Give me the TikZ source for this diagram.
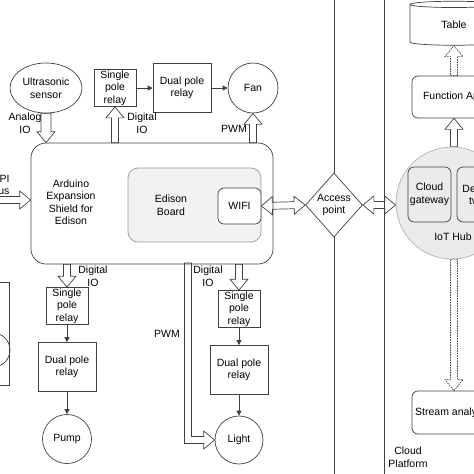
\documentclass[tikz,border=0pt]{standalone}
\usepackage{fontspec}
\setmainfont{Liberation Sans}
\usetikzlibrary{arrows.meta,shapes.geometric,backgrounds,calc}

\begin{document}
\begin{tikzpicture}
  [x=1pt,y=-1pt,>={Triangle[length=5pt,width=5pt]},%以像素为单位,y轴向下
   font=\fontsize{10.5pt}{12.5pt}\selectfont,
   box/.style={draw=black!75,line width=0.7pt,align=center,inner sep=0pt},%所有方框的基本样式
   relay/.style={box,minimum width=42pt,minimum height=37pt},%单极继电器
   dual/.style={box,minimum width=58pt,minimum height=49pt},%双极继电器
   dev/.style={box,circle,minimum size=49pt},%执行器(圆形)
   soft/.style={box,rounded corners=6pt},%圆角方框
   txt/.style={align=center,inner sep=0pt},%纯文字
   line/.style={draw=black!75,line width=0.7pt},
   fat/.style={line,fill=white,%空心粗箭头
     to path={let \p1=(\tikztostart),\p2=(\tikztotarget),
       \n1={atan2(\y2-\y1,\x2-\x1)},\n2={veclen(\x2-\x1,\y2-\y1)} in
       {[shift={(\p1)},rotate=\n1]
        (0pt,-#1) -- ({\n2-11pt},-#1) -- ({\n2-11pt},-9pt) -- (\n2,0pt)
        -- ({\n2-11pt},9pt) -- ({\n2-11pt},#1) -- (0pt,#1) -- cycle}}},
   fat/.default=3.5pt,
   fat2/.style={line,fill=white,%双向空心粗箭头
     to path={let \p1=(\tikztostart),\p2=(\tikztotarget),
       \n1={atan2(\y2-\y1,\x2-\x1)},\n2={veclen(\x2-\x1,\y2-\y1)} in
       {[shift={(\p1)},rotate=\n1]
        (11pt,-3.5pt) -- ({\n2-11pt},-3.5pt) -- ({\n2-11pt},-9pt) -- (\n2,0pt)
        -- ({\n2-11pt},9pt) -- ({\n2-11pt},3.5pt) -- (11pt,3.5pt) -- (11pt,9pt)
        -- (0pt,0pt) -- (11pt,-9pt) -- cycle}}},
   dots/.style={dash pattern=on 1.5pt off 1pt}]

  \clip (0,0) rectangle (474,474);

  % 设备侧
  \node [box,ellipse,minimum width=72pt,minimum height=50pt] (us) at (46,88) {Ultrasonic\\sensor};
  \node [relay] (sp1) at (115,88) {Single\\pole\\relay};
  \node [dual]  (dp1) at (182,88) {Dual pole\\relay};
  \node [dev,minimum size=50pt] (fan) at (253,88) {Fan};

  \node [box,rounded corners=15pt,minimum width=242pt,minimum height=121pt] (ard) at (152,203.5) {};
  \node [txt] (ardtxt) at (71,202) {Arduino\\Expansion\\Shield for\\Edison};
  \node [box,draw=black!40,fill=black!5,rounded corners=10pt,
         minimum width=133pt,minimum height=74pt] (ed) at (194.5,205) {};
  \node [txt] (edtxt) at (171,205) {Edison\\Board};
  \node [soft,fill=white,minimum width=43pt,minimum height=36pt] (wifi) at (239.5,206) {WIFI};

  \node [relay] (sp2)  at (67,306) {Single\\pole\\relay};
  \node [dual]  (dp2)  at (67,367) {Dual pole\\relay};
  \node [dev]   (pump) at (67,439) {Pump};
  \node [relay] (sp3)  at (239,309) {Single\\pole\\relay};
  \node [dual]  (dp3)  at (239,370) {Dual pole\\relay};
  \node [dev,minimum size=48pt] (light) at (239,440) {Light};

  \node [box,minimum width=50pt,minimum height=103pt] (lbox) at (-16,333.5) {};
  \node [box,circle,minimum size=34pt] (lcirc) at (-7,350) {};

  % 接入点与云平台
  \node [box,diamond,fill=white,minimum width=57pt,minimum height=64pt] (ap) at (334,205) {Access\\point};
  \node [circle,draw=black!30,fill=black!8,line width=0.7pt,minimum size=112pt] (iot) at (452,203) {};
  \node [soft,minimum width=43pt,minimum height=55pt] (cg) at (429.5,194.5) {Cloud\\gateway};
  \node [soft,minimum width=43pt,minimum height=55pt] (dt) at (478.5,194.5) {Device\\twin};
  \node [txt] (iottxt) at (453,237) {IoT Hub};
  \node [soft,minimum width=84pt,minimum height=42pt] (fa) at (454,97) {Function App};
  \node [box,cylinder,shape border rotate=90,aspect=0.25,
         minimum width=88pt,minimum height=44pt] (tbl) at (454,25) {Table};
  \node [soft,minimum width=84pt,minimum height=43pt] (sa) at (454,412.5) {Stream analytics};
  \node [txt] (cp) at (408,457) {Cloud\\Platform};

  % 标签
  \node [txt] (lan)  at (25,123)  {Analog\\IO};
  \node [txt] (ldi1) at (142,123) {Digital\\IO};
  \node [txt] (lpw1) at (234,129) {PWM};
  \node [txt] (ldi2) at (93,276)  {Digital\\IO};
  \node [txt] (ldi3) at (208,276) {Digital\\IO};
  \node [txt] (lpw2) at (167,334) {PWM};
  \node [txt] (lspi) at (1,185)   {SPI\\bus};

  \coordinate (spi)    at (-4,200);
  \coordinate (pwmtop) at (188,263);
  \coordinate (v1top)  at (334,-5);
  \coordinate (v1bot)  at (334,480);
  \coordinate (v2top)  at (384,-5);
  \coordinate (v2bot)  at (384,480);

  % 细箭头
  \draw [line,->] (sp1) -- (dp1);
  \draw [line,->] (dp1) -- (fan);
  \draw [line,->] (sp2) -- (dp2);
  \draw [line,->] (dp2) -- (pump);
  \draw [line,->] (sp3) -- (dp3);
  \draw [line,->] (dp3) -- (light);

  % 分隔线
  \draw [line] (v1top) -- (ap.north);
  \draw [line] (ap.south) -- (v1bot);
  \draw [line] (v2top) -- (v2bot);

  \begin{scope}[on background layer]%空心箭头放在背景层
    \draw [fat=5pt] (us.south) to (us.south |- ard.north);
    \draw [fat] (ard.north -| sp1.south) to (sp1.south);
    \draw [fat] (ard.north -| fan.south) to (fan.south);
    \draw [fat] (spi) to (spi -| ard.west);
    \draw [fat] (ard.south -| sp2.north) to (sp2.north);
    \draw [fat] (ard.south -| sp3.north) to (sp3.north);
    \draw [fat2] (wifi.east) to (ap.west);
    \draw [fat2] (ap.east) to (ap.east -| iot.west);
    \draw [fat] (fa.south |- iot.north) to (fa.south);
    \draw [fat,dots] (fa.north) to (tbl.south);
    \draw [fat,dots] (fa.south |- iot.south) to (sa.north);
    \draw [line,fill=white] let \p1=(pwmtop),\p2=(light.west) in
      (\x1-3.5pt,\y1) -- (\x1-3.5pt,\y2-3.5pt) -- (\x2-11pt,\y2-3.5pt) -- (\x2-11pt,\y2-9pt)
      -- (\x2,\y2) -- (\x2-11pt,\y2+9pt) -- (\x2-11pt,\y2+3.5pt) -- (\x1+3.5pt,\y2+3.5pt)
      -- (\x1+3.5pt,\y1) -- cycle;
  \end{scope}
\end{tikzpicture}
\end{document}
